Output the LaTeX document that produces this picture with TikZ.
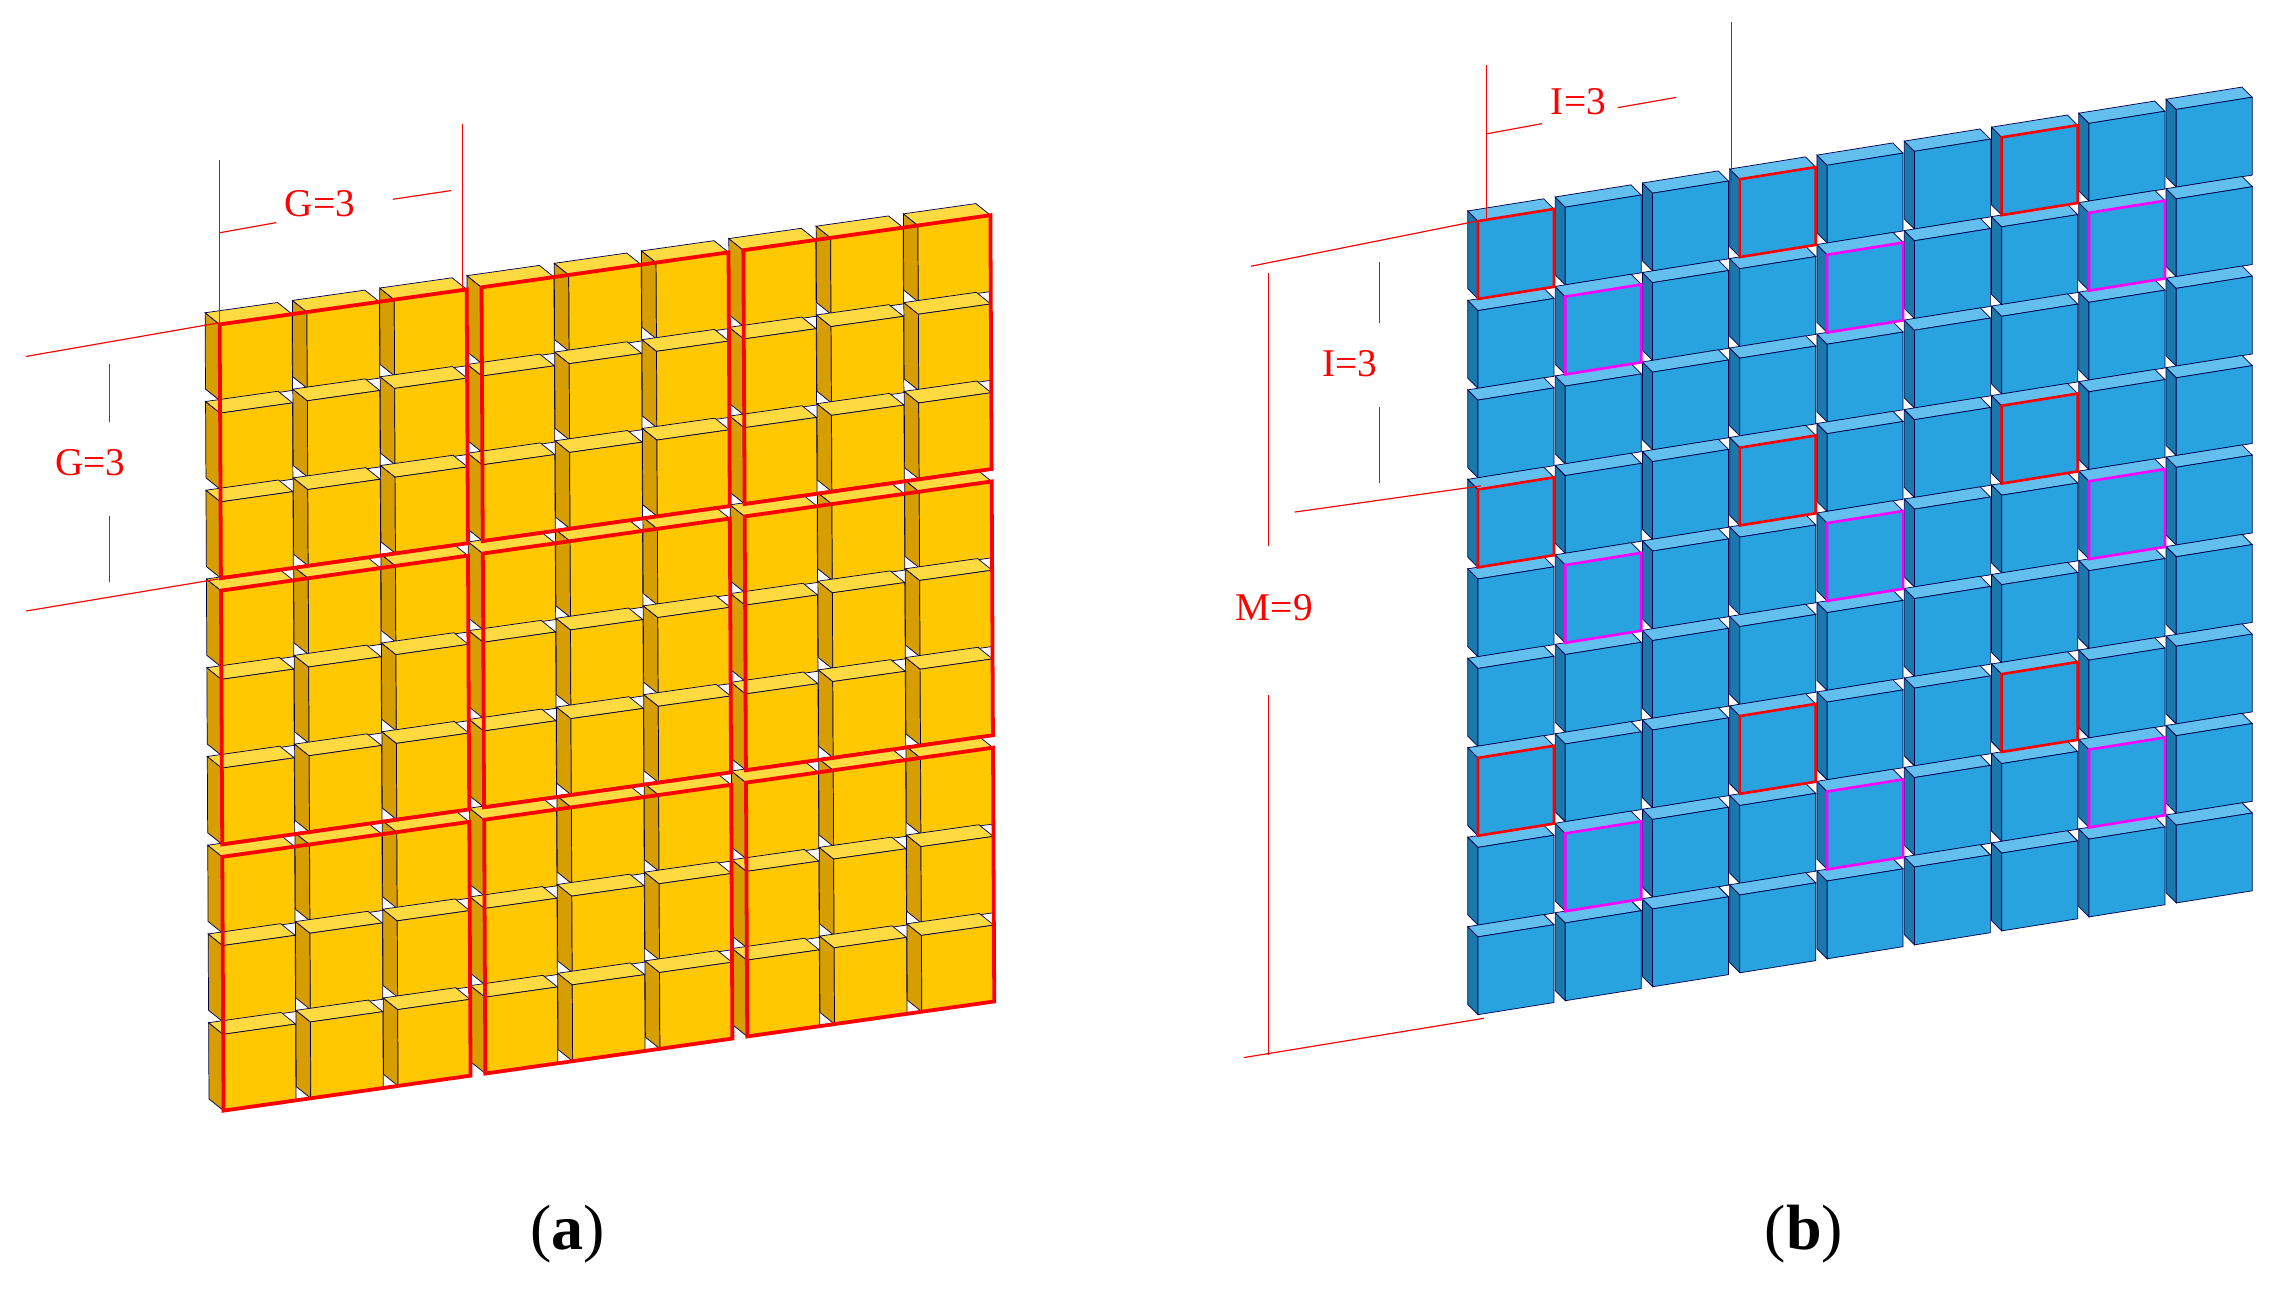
\documentclass[tikz,border=0pt]{standalone}
\usepackage{fontspec}
\setmainfont{Liberation Serif}
\begin{document}
\begin{tikzpicture}[x=1pt,y=-1pt,
  dim/.style={red,line width=0.8pt},
  lab/.style={red,font=\fontsize{27}{30}\selectfont},
  captext/.style={font=\fontsize{44}{48}\selectfont},
  edge/.style={draw=black!70!blue,line width=0.5pt}]
\useasboundingbox (0,0) rectangle (1568,891);
\definecolor{yf}{HTML}{FFC800}\definecolor{ys}{HTML}{D69E00}\definecolor{yt}{HTML}{FFDA40}
\definecolor{bf}{HTML}{29A3DF}\definecolor{bs}{HTML}{1A78AC}\definecolor{bt}{HTML}{62BFEE}
\definecolor{mag}{HTML}{FF00FF}
\newcommand\mycube[9]{%
  \pgfmathsetmacro\ax{#3*\fw}\pgfmathsetmacro\ay{#4*\fw}
  \pgfmathsetmacro\bx{#5*\fh}\pgfmathsetmacro\by{#6*\fh}
  \fill[#9s,edge] (#1,#2) -- ++(#7,#8) -- ++(\bx,\by) -- ++(-#7,-#8) -- cycle;
  \fill[#9t,edge] (#1,#2) -- ++(#7,#8) -- ++(\ax,\ay) -- ++(-#7,-#8) -- cycle;
  \fill[#9f,edge] (#1,#2) -- ++(\ax,\ay) -- ++(\bx,\by) -- ++(-\ax,-\ay) -- cycle;
}
% ---------- panel (a) ----------
\def\fw{0.83}\def\fh{0.86}
\foreach \r in {0,...,8}{\foreach \c in {0,...,8}{
  \pgfmathsetmacro\px{151+\c*60+\r*0.3}\pgfmathsetmacro\py{223-\c*8.5+\r*61}
  \mycube{\px}{\py}{60}{-8.5}{0.3}{61}{-10}{-8}{y}}}
\foreach \bi in {0,1,2}{\foreach \bj in {0,1,2}{
  \pgfmathsetmacro\xa{151+3*\bi*60+3*\bj*0.3}\pgfmathsetmacro\ya{223-3*\bi*8.5+3*\bj*61}
  \pgfmathsetmacro\wx{(2+\fw)*60}\pgfmathsetmacro\wy{-(2+\fw)*8.5}
  \pgfmathsetmacro\hx{(2+\fh)*0.3}\pgfmathsetmacro\hy{(2+\fh)*61}
  \draw[red,line width=2.6pt] (\xa,\ya) -- ++(\wx,\wy) -- ++(\hx,\hy) -- ++(-\wx,-\wy) -- cycle;}}
\draw[dim] (151,110) -- (151,222);
\draw[dim] (318,85) -- (318,200);
\draw[dim] (151,160) -- (190,153);
\draw[dim] (270,137) -- (310,131);
\node[lab] (ga) at (220,140) {G=3};
\draw[dim] (18,245) -- (150,222);
\draw[dim] (18,420) -- (150,398);
\draw[dim] (75,250) -- (75,290);
\draw[dim] (75,355) -- (75,400);
\node[lab] (gb) at (62,318) {G=3};
\node[captext] (capa) at (390,848) {(\textbf{a})};
% ---------- panel (b) ----------
\def\fw{0.87}\def\fh{0.87}
\foreach \r in {0,...,8}{\foreach \c in {0,...,8}{
  \pgfmathsetmacro\px{1016+\c*60}\pgfmathsetmacro\py{152-\c*9.6+\r*61.5}
  \mycube{\px}{\py}{60}{-9.6}{0}{61.5}{-7}{-7}{b}}}
\foreach \c/\r/\col in {0/0/red,3/0/red,6/0/red,0/3/red,3/3/red,6/3/red,0/6/red,3/6/red,6/6/red,
  1/1/mag,4/1/mag,7/1/mag,1/4/mag,4/4/mag,7/4/mag,1/7/mag,4/7/mag,7/7/mag}{
  \pgfmathsetmacro\px{1016+\c*60}\pgfmathsetmacro\py{152-\c*9.6+\r*61.5}
  \draw[\col,line width=1.8pt] (\px,\py) -- ++(52.2,-8.35) -- ++(0,53.5) -- ++(-52.2,8.35) -- cycle;}
\draw[dim] (1022,45) -- (1022,150);
\draw[dim] (1190,15) -- (1190,125);
\draw[dim] (1022,92) -- (1060,85);
\draw[dim] (1112,74) -- (1152,67);
\node[lab] (ia) at (1085,70) {I=3};
\draw[dim] (860,183) -- (1015,152);
\draw[dim] (890,352) -- (1018,334);
\draw[dim] (855,727) -- (1020,700);
\draw[dim] (948,180) -- (948,222);
\draw[dim] (948,280) -- (948,332);
\node[lab] (ib) at (928,250) {I=3};
\draw[dim] (872,188) -- (872,375);
\draw[dim] (872,478) -- (872,725);
\node[lab] (m) at (876,418) {M=9};
\node[captext] (capb) at (1240,848) {(\textbf{b})};
\end{tikzpicture}
\end{document}
